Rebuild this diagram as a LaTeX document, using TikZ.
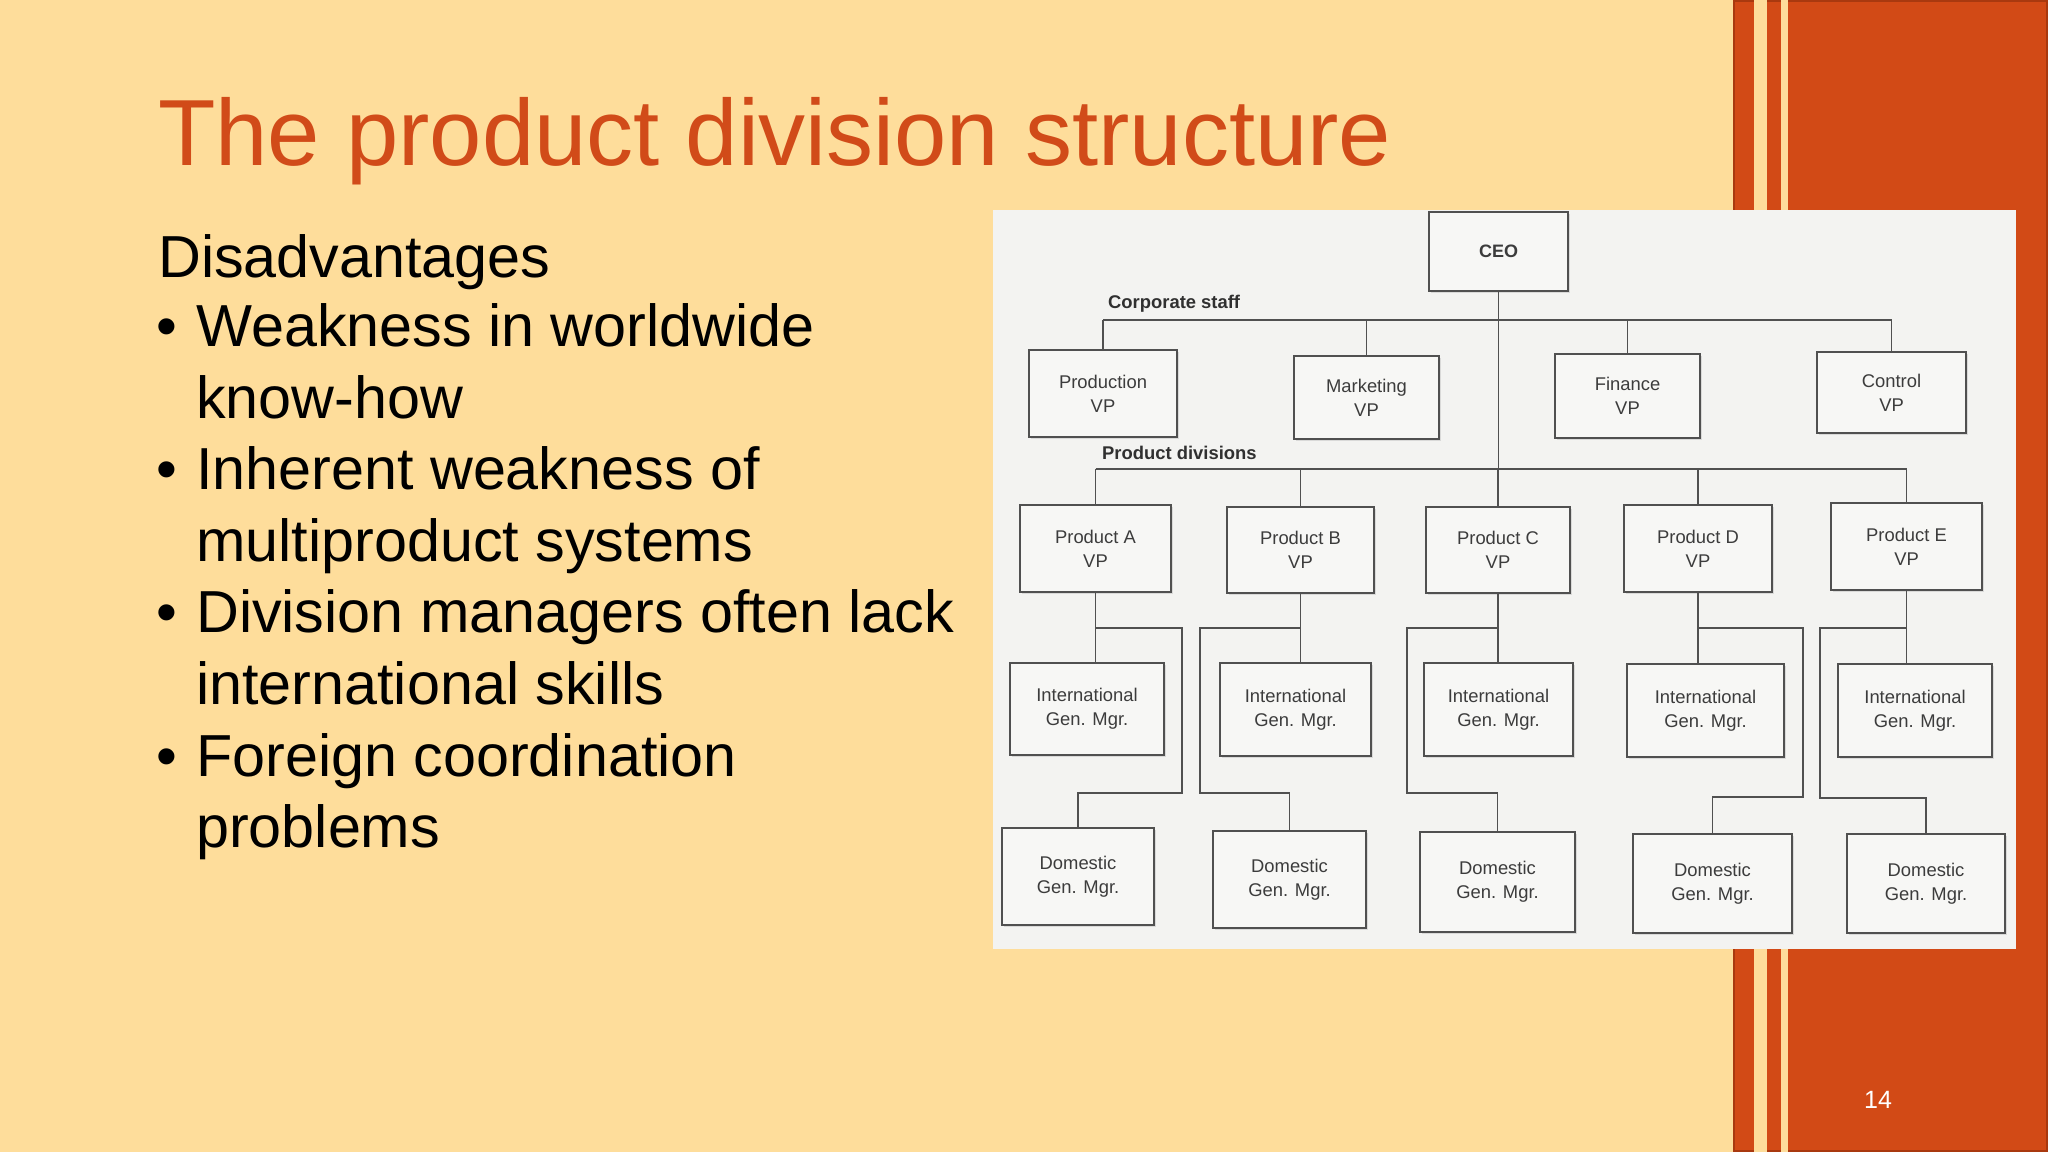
\documentclass[tikz,border=0pt]{standalone}
\usepackage{fontspec}
\setmainfont{Liberation Sans}
\usetikzlibrary{shadows}
\definecolor{cream}{HTML}{FEDD9B}
\definecolor{rust}{HTML}{D24A16}
\definecolor{rustdark}{HTML}{A9390F}
\definecolor{photo}{HTML}{F3F3F1}
\definecolor{boxfill}{HTML}{F7F7F5}
\definecolor{ink}{HTML}{3C3C3C}
\definecolor{edge}{HTML}{505050}
\definecolor{titlecol}{HTML}{D14B19}
\begin{document}
\begin{tikzpicture}[x=1pt,y=-1pt,
  orgbox/.style={draw=edge, fill=boxfill, line width=1.1pt, inner sep=0pt, align=center,
    text=ink, font=\fontsize{18.4}{24}\selectfont,
    drop shadow={shadow xshift=1.5pt, shadow yshift=-1.5pt, opacity=0.22}},
  sz/.style 2 args={minimum width=#1pt, minimum height=#2pt},
  link/.style={draw=edge, line width=1.1pt},
  lab/.style={inner sep=0pt, anchor=base west, text=ink!80!black, font=\bfseries\fontsize{18.4}{22}\selectfont},
  body/.style={inner sep=0pt, anchor=base west, text=black, font=\fontsize{59.3}{72}\selectfont}]
\useasboundingbox (0,0) rectangle (2048,1152);
% background
\fill[cream] (0,0) rectangle (2048,1152);
% orange panel and stripes
\path[fill=rust, draw=rustdark, line width=2pt] (1734,1) rectangle (2047,1151);
\fill[cream] (1754,0) rectangle (1767,1152);
\fill[cream] (1781,0) rectangle (1788,1152);
% title
\node[inner sep=0pt, anchor=base west, text=titlecol, font=\fontsize{94}{94}\selectfont] (title) at (158,165) {The product division structure};
% body text
\node[body] (l0) at (158,277) {Disadvantages};
\node[body] (b1) at (156,346) {•};
\node[body] (l1) at (196,346) {Weakness in worldwide};
\node[body] (l2) at (196,418) {know-how};
\node[body] (b2) at (156,489) {•};
\node[body] (l3) at (196,489) {Inherent weakness of};
\node[body] (l4) at (196,561) {multiproduct systems};
\node[body] (b3) at (156,632) {•};
\node[body] (l5) at (196,632) {Division managers often lack};
\node[body] (l6) at (196,704) {international skills};
\node[body] (b4) at (156,776) {•};
\node[body] (l7) at (196,776) {Foreign coordination};
\node[body] (l8) at (196,847) {problems};
% slide number
\node[inner sep=0pt, anchor=base, text=white, font=\fontsize{25}{25}\selectfont] (num) at (1878,1108) {14};
% photo
\fill[photo] (993,210) rectangle (2016,949);
% boxes
\node[orgbox, sz={139}{79}, font=\bfseries\fontsize{18}{22}\selectfont] (ceo) at (1498.5,251.5) {CEO};
\node[orgbox, sz={148}{87}] (prod) at (1103,393.5) {Production\\VP};
\node[orgbox, sz={145}{83}] (mkt) at (1366.5,397.5) {Marketing\\VP};
\node[orgbox, sz={145}{84}] (fin) at (1627.5,396) {Finance\\VP};
\node[orgbox, sz={149}{81}] (ctrl) at (1891.5,392.5) {Control\\VP};
\node[orgbox, sz={151}{87}] (pA) at (1095.5,548.5) {Product A\\VP};
\node[orgbox, sz={147}{86}] (pB) at (1300.5,550) {Product B\\VP};
\node[orgbox, sz={144}{86}] (pC) at (1498,550) {Product C\\VP};
\node[orgbox, sz={148}{87}] (pD) at (1698,548.5) {Product D\\VP};
\node[orgbox, sz={151}{87}] (pE) at (1906.5,546.5) {Product E\\VP};
\node[orgbox, sz={154}{92}] (iA) at (1087,709) {International\\Gen. Mgr.};
\node[orgbox, sz={151}{93}] (iB) at (1295.5,709.5) {International\\Gen. Mgr.};
\node[orgbox, sz={149}{93}] (iC) at (1498.5,709.5) {International\\Gen. Mgr.};
\node[orgbox, sz={157}{93}] (iD) at (1705.5,710.5) {International\\Gen. Mgr.};
\node[orgbox, sz={154}{93}] (iE) at (1915,710.5) {International\\Gen. Mgr.};
\node[orgbox, sz={152}{97}] (dA) at (1078,876.5) {Domestic\\Gen. Mgr.};
\node[orgbox, sz={153}{97}] (dB) at (1289.5,879.5) {Domestic\\Gen. Mgr.};
\node[orgbox, sz={155}{100}] (dC) at (1497.5,882) {Domestic\\Gen. Mgr.};
\node[orgbox, sz={159}{99}] (dD) at (1712.5,883.5) {Domestic\\Gen. Mgr.};
\node[orgbox, sz={158}{99}] (dE) at (1926,883.5) {Domestic\\Gen. Mgr.};
% labels
\node[lab] (cslab) at (1108,308) {Corporate staff};
\node[lab] (pdlab) at (1102,459) {Product divisions};
% coordinates
\coordinate (csL) at (1107,320);
\coordinate (pdL) at (1098,469);
\coordinate (jy) at (0,628);
\coordinate (oA) at (1182,793);
\coordinate (oB) at (1200,793);
\coordinate (oC) at (1407,793);
\coordinate (oD) at (1803,797);
\coordinate (oE) at (1820,798);
% corporate staff
\draw[link] (prod.north |- csL) -- (ctrl.north |- csL);
\draw[link] (ceo.south) -- (ceo.south |- pdL);
\foreach \b in {prod,mkt,fin,ctrl} \draw[link] (\b.north) -- (\b.north |- csL);
% product divisions
\draw[link] (pA.north |- pdL) -- (pE.north |- pdL);
\foreach \b in {pA,pB,pC,pD,pE} \draw[link] (\b.north) -- (\b.north |- pdL);
% product sub-structures
\foreach \k in {A,B,C,D,E} {
  \draw[link] (p\k.south) -- (p\k.south |- i\k.north);
  \draw[link] (p\k.south |- jy) -- (o\k |- jy) -- (o\k) -- (d\k.north |- o\k) -- (d\k.north);
}
\end{tikzpicture}
\end{document}
